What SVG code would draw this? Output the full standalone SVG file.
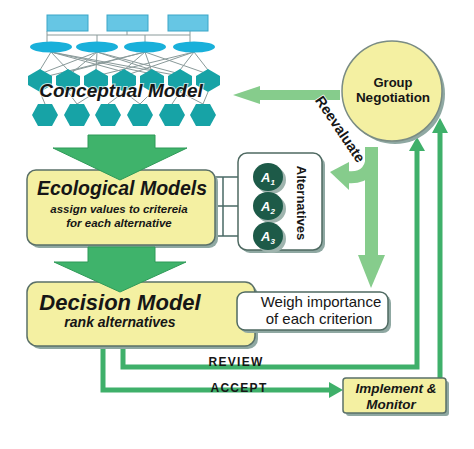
<svg xmlns="http://www.w3.org/2000/svg" width="474" height="449" viewBox="0 0 474 449">
<style>
.rect{fill:#66c6e4;stroke:#3aa6c8;stroke-width:1}
.ell{fill:#19b0da}
.dia{fill:#17a3a6}
.hex{fill:#17a3a6}
.thin{stroke:#8a9a9a;stroke-width:1;fill:none}
.box{fill:#f4f0a2;stroke:#5a7068;stroke-width:1.5}
.wbox{fill:#ffffff;stroke:#4f6a62;stroke-width:1.5}
.shadow{fill:#8fa8a2}
.big{fill:#3fb36b;stroke:#2f9a58;stroke-width:1}
.light{fill:#86cc8c}
.line{fill:none;stroke:#3fb06a;stroke-width:5}
.head{fill:#3fb06a}
.bi{font-family:"Liberation Sans",Arial,sans-serif;font-weight:bold;font-style:italic;fill:#161616;text-anchor:middle}
.b{font-family:"Liberation Sans",Arial,sans-serif;font-weight:bold;fill:#161616;text-anchor:middle}
.r{font-family:"Liberation Sans",Arial,sans-serif;fill:#161616;text-anchor:middle}
.alt{fill:#1d5a48}
.altsh{fill:#9fb4ae}
.alttxt{font-family:"Liberation Sans",Arial,sans-serif;font-weight:bold;font-style:italic;fill:#ffffff;font-size:13px;text-anchor:middle}
.link{stroke:#4a6a66;stroke-width:1.5;fill:none}
</style>

<g id="conceptual-model">
  <g class="thin">
    <path d="M47 35 H190 M47 31 V42 M127 31 V35 M190 31 V42 M97 35 V42 M145 35 V42"/>
    <path d="M51 52 L40 70 M51 52 L68 70 M51 52 L124 72 M51 52 L152 74 M51 52 L180 76"/>
    <path d="M97 52 L40 74 M97 52 L96 70 M97 52 L152 70 M97 52 L180 74 M97 52 L68 76"/>
    <path d="M145 52 L68 72 M145 52 L124 70 M145 52 L152 72 M145 52 L208 74 M145 52 L40 78"/>
    <path d="M194 52 L96 76 M194 52 L180 70 M194 52 L208 70 M194 52 L124 76"/>
    <path d="M45 104 L40 92 M77 104 L68 92 M77 104 L96 92 M108 104 L124 92 M140 104 L124 92 M140 104 L152 92 M172 104 L180 92 M203 104 L208 92 M203 104 L180 92"/>
  </g>
  <rect class="rect" x="47" y="15" width="41" height="16"/>
  <rect class="rect" x="107" y="15" width="41" height="16"/>
  <rect class="rect" x="168" y="15" width="40" height="16"/>
  <ellipse class="ell" cx="51" cy="47" rx="21" ry="5.5"/>
  <ellipse class="ell" cx="97" cy="47" rx="21" ry="5.5"/>
  <ellipse class="ell" cx="145" cy="47" rx="21" ry="5.5"/>
  <ellipse class="ell" cx="194" cy="47" rx="21" ry="5.5"/>
  <g class="dia">
    <polygon points="40,69 52,76 52,85 40,92 28,85 28,76"/>
    <polygon points="68,69 80,76 80,85 68,92 56,85 56,76"/>
    <polygon points="96,69 108,76 108,85 96,92 84,85 84,76"/>
    <polygon points="124,69 136,76 136,85 124,92 112,85 112,76"/>
    <polygon points="152,69 164,76 164,85 152,92 140,85 140,76"/>
    <polygon points="180,69 192,76 192,85 180,92 168,85 168,76"/>
    <polygon points="208,69 220,76 220,85 208,92 196,85 196,76"/>
  </g>
  <g class="hex">
    <polygon points="38,104 52,104 58,115 52,126 38,126 32,115"/>
    <polygon points="70,104 84,104 90,115 84,126 70,126 64,115"/>
    <polygon points="101,104 115,104 121,115 115,126 101,126 95,115"/>
    <polygon points="133,104 147,104 153,115 147,126 133,126 127,115"/>
    <polygon points="165,104 179,104 185,115 179,126 165,126 159,115"/>
    <polygon points="196,104 210,104 216,115 210,126 196,126 190,115"/>
  </g>
  <text class="bi" x="121" y="97" font-size="19" stroke="#ffffff" stroke-width="2" paint-order="stroke" stroke-opacity="0.7">Conceptual Model</text>
</g>

<g id="connectors">
  <polygon class="light" points="340,90 260,90 260,86 233,95 260,104 260,100 340,100"/>
  <rect class="light" x="365" y="147" width="13" height="109"/>
  <polygon class="light" points="358,255 385,255 371,288"/>
  <path d="M372 148 Q374 180 347 177" fill="none" stroke="#86cc8c" stroke-width="12"/>
  <polygon class="light" points="330,172 349,162 349,190"/>
  <path class="line" d="M123 340 V367 H417 V150"/>
  <polygon class="head" points="409,151 425,151 417,137"/>
  <path class="line" d="M440 378 V132"/>
  <polygon class="head" points="432,133 448,133 440,118"/>
  <path class="line" d="M103 340 V390 H330"/>
  <polygon class="head" points="329,382 329,398 343,390"/>
  <polygon class="head" points="237,306 222,306 222,298 208,311 222,324 222,316 237,316"/>
  <path class="link" d="M215 177 H254 M215 206 H254 M215 236 H254 M223 177 V236"/>
  <text class="b" x="236" y="366" font-size="12" letter-spacing="1.3">REVIEW</text>
  <text class="b" x="239" y="392" font-size="12" letter-spacing="1.3">ACCEPT</text>
  <text class="b" x="336" y="132" font-size="14.5" fill="#1c5f5c" stroke="#ffffff" stroke-width="1.5" paint-order="stroke" transform="rotate(56 336 132)">Reevaluate</text>
</g>

<g id="ecological-models">
  <rect class="shadow" x="30" y="173" width="188" height="75" rx="9"/>
  <rect class="box" x="27" y="170" width="188" height="75" rx="9"/>
  <text class="bi" x="122" y="195" font-size="19.5">Ecological Models</text>
  <text class="bi" x="119" y="213" font-size="11.5">assign values to critereia</text>
  <text class="bi" x="119" y="227" font-size="11.5">for each alternative</text>
</g>

<polygon class="big" points="88,135 155,135 155,148 187,148 120,180 53,148 88,148"/>

<g id="alternatives">
  <rect class="shadow" x="241" y="156" width="84" height="97" rx="9"/>
  <rect class="wbox" x="238" y="153" width="84" height="97" rx="9"/>
  <ellipse class="altsh" cx="271" cy="180" rx="15" ry="14"/>
  <ellipse class="alt" cx="268" cy="177" rx="15" ry="14"/>
  <ellipse class="altsh" cx="271" cy="209" rx="15" ry="14"/>
  <ellipse class="alt" cx="268" cy="206" rx="15" ry="14"/>
  <ellipse class="altsh" cx="271" cy="239" rx="15" ry="14"/>
  <ellipse class="alt" cx="268" cy="236" rx="15" ry="14"/>
  <text class="alttxt" x="268" y="182">A<tspan font-size="8" dy="3">1</tspan></text>
  <text class="alttxt" x="268" y="211">A<tspan font-size="8" dy="3">2</tspan></text>
  <text class="alttxt" x="268" y="241">A<tspan font-size="8" dy="3">3</tspan></text>
  <text class="b" x="297" y="203" font-size="13" transform="rotate(90 297 203)">Alternatives</text>
</g>

<g id="decision-model">
  <rect class="shadow" x="30" y="285" width="228" height="64" rx="10"/>
  <rect class="box" x="27" y="282" width="228" height="64" rx="10"/>
  <text class="bi" x="120" y="310" font-size="22">Decision Model</text>
  <text class="bi" x="120" y="327" font-size="14">rank alternatives</text>
</g>

<polygon class="big" points="88,247 155,247 155,262 186,262 120,292 54,262 88,262"/>

<g id="weigh-importance">
  <rect class="shadow" x="240" y="295" width="151" height="38" rx="8"/>
  <rect class="wbox" x="237" y="292" width="151" height="38" rx="8"/>
  <text class="r" x="321" y="307" font-size="15">Weigh importance</text>
  <text class="r" x="319" y="324" font-size="15">of each criterion</text>
</g>

<g id="implement-monitor">
  <rect class="shadow" x="346" y="381" width="103" height="35" rx="3"/>
  <rect class="box" x="343" y="378" width="103" height="35" rx="3"/>
  <text class="bi" x="396" y="393" font-size="13.5">Implement &amp;</text>
  <text class="bi" x="391" y="409" font-size="13.5">Monitor</text>
</g>

<g id="group-negotiation">
  <circle class="shadow" cx="395" cy="94" r="50"/>
  <circle cx="392" cy="91" r="50" fill="#f4f0a2" stroke="#7a8c84" stroke-width="1.5"/>
  <text class="b" x="393" y="87" font-size="13">Group</text>
  <text class="b" x="393" y="102" font-size="13.5">Negotiation</text>
</g>
</svg>
